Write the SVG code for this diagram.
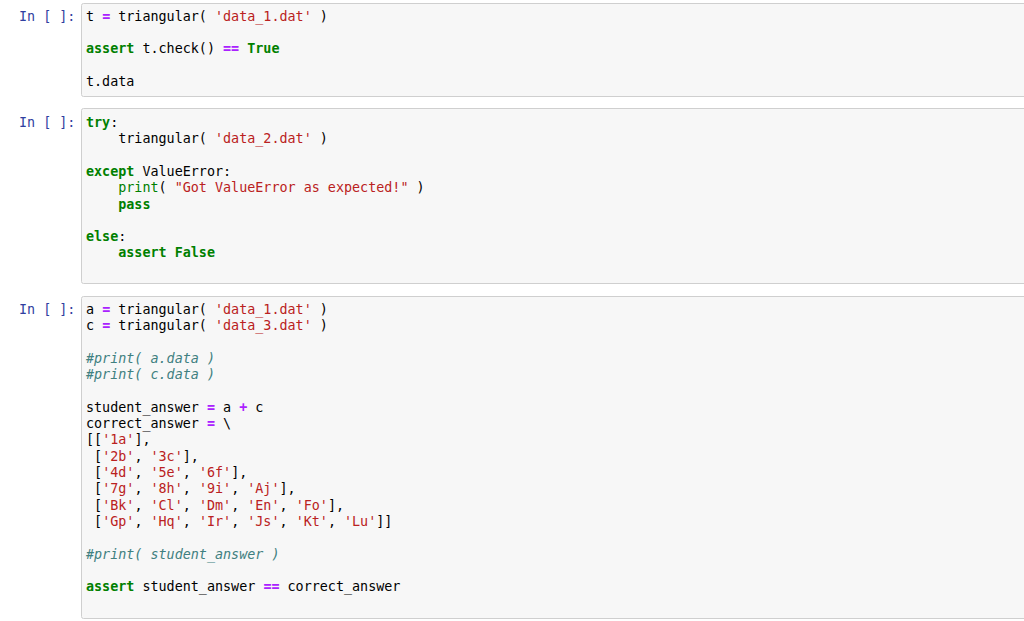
<svg xmlns="http://www.w3.org/2000/svg" width="1024" height="621" viewBox="0 0 1024 621">
<style>
text{font-family:"DejaVu Sans Mono",monospace;font-size:13.4px;fill:#000;white-space:pre}
.p{fill:#303F9F}
.k{fill:#008000;font-weight:bold}
.b{fill:#008000}
.o{fill:#AA22FF;font-weight:bold}
.s{fill:#BA2121}
.c{fill:#408080;font-style:italic}
.cell{fill:#f7f7f7;stroke:#cfcfcf;stroke-width:1}
</style>
<rect width="1024" height="621" fill="#fff"/>
<g id="cell1">
<rect class="cell" x="81.5" y="3.5" width="950" height="93" rx="2"/>
<text class="p" x="19" y="21" xml:space="preserve">In [ ]:</text>
<text x="86" y="21" xml:space="preserve">t <tspan class="o">=</tspan> triangular( <tspan class="s">'data_1.dat'</tspan> )</text>
<text x="86" y="53" xml:space="preserve"><tspan class="k">assert</tspan> t.check() <tspan class="o">==</tspan> <tspan class="k">True</tspan></text>
<text x="86" y="86" xml:space="preserve">t.data</text>
</g>
<g id="cell2">
<rect class="cell" x="81.5" y="108.5" width="950" height="175" rx="2"/>
<text class="p" x="19" y="127" xml:space="preserve">In [ ]:</text>
<text x="86" y="127" xml:space="preserve"><tspan class="k">try</tspan>:</text>
<text x="86" y="143.3" xml:space="preserve">    triangular( <tspan class="s">'data_2.dat'</tspan> )</text>
<text x="86" y="175.9" xml:space="preserve"><tspan class="k">except</tspan> ValueError:</text>
<text x="86" y="192.2" xml:space="preserve">    <tspan class="b">print</tspan>( <tspan class="s">"Got ValueError as expected!"</tspan> )</text>
<text x="86" y="208.5" xml:space="preserve">    <tspan class="k">pass</tspan></text>
<text x="86" y="241.1" xml:space="preserve"><tspan class="k">else</tspan>:</text>
<text x="86" y="257.4" xml:space="preserve">    <tspan class="k">assert</tspan> <tspan class="k">False</tspan></text>
</g>
<g id="cell3">
<rect class="cell" x="81.5" y="296.5" width="950" height="322" rx="2"/>
<text class="p" x="19" y="314" xml:space="preserve">In [ ]:</text>
<text x="86" y="314" xml:space="preserve">a <tspan class="o">=</tspan> triangular( <tspan class="s">'data_1.dat'</tspan> )</text>
<text x="86" y="330.3" xml:space="preserve">c <tspan class="o">=</tspan> triangular( <tspan class="s">'data_3.dat'</tspan> )</text>
<text class="c" x="86" y="362.9" xml:space="preserve">#print( a.data )</text>
<text class="c" x="86" y="379.2" xml:space="preserve">#print( c.data )</text>
<text x="86" y="411.8" xml:space="preserve">student_answer <tspan class="o">=</tspan> a <tspan class="o">+</tspan> c</text>
<text x="86" y="428.1" xml:space="preserve">correct_answer <tspan class="o">=</tspan> \</text>
<text x="86" y="444.4" xml:space="preserve">[[<tspan class="s">'1a'</tspan>],</text>
<text x="86" y="460.7" xml:space="preserve"> [<tspan class="s">'2b'</tspan>, <tspan class="s">'3c'</tspan>],</text>
<text x="86" y="477" xml:space="preserve"> [<tspan class="s">'4d'</tspan>, <tspan class="s">'5e'</tspan>, <tspan class="s">'6f'</tspan>],</text>
<text x="86" y="493.3" xml:space="preserve"> [<tspan class="s">'7g'</tspan>, <tspan class="s">'8h'</tspan>, <tspan class="s">'9i'</tspan>, <tspan class="s">'Aj'</tspan>],</text>
<text x="86" y="509.6" xml:space="preserve"> [<tspan class="s">'Bk'</tspan>, <tspan class="s">'Cl'</tspan>, <tspan class="s">'Dm'</tspan>, <tspan class="s">'En'</tspan>, <tspan class="s">'Fo'</tspan>],</text>
<text x="86" y="525.9" xml:space="preserve"> [<tspan class="s">'Gp'</tspan>, <tspan class="s">'Hq'</tspan>, <tspan class="s">'Ir'</tspan>, <tspan class="s">'Js'</tspan>, <tspan class="s">'Kt'</tspan>, <tspan class="s">'Lu'</tspan>]]</text>
<text class="c" x="86" y="558.5" xml:space="preserve">#print( student_answer )</text>
<text x="86" y="591.1" xml:space="preserve"><tspan class="k">assert</tspan> student_answer <tspan class="o">==</tspan> correct_answer</text>
</g>
</svg>
